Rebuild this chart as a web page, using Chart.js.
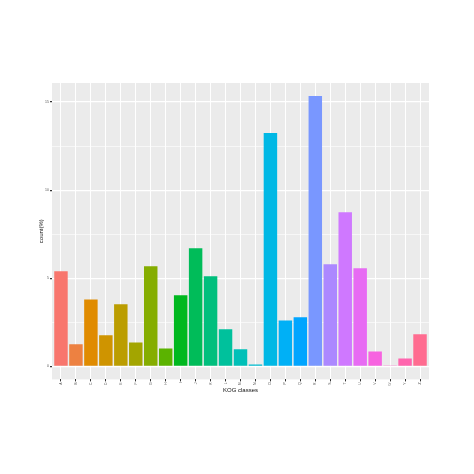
<!DOCTYPE html>
<html>
<head>
<meta charset="utf-8">
<script src="https://cdn.jsdelivr.net/npm/chart.js@4"></script>
<style>
html,body{margin:0;padding:0;background:#fff;}
#wrap{width:474px;height:474px;}
</style>
</head>
<body>
<div id="wrap"><canvas id="c" width="474" height="474"></canvas></div>
<script>
const categories = ["A","B","C","D","E","F","G","H","I","J","K","L","M","N","O","P","Q","R","S","T","U","V","W","Y","Z"];
const counts = [5.4,1.25,3.8,1.76,3.52,1.36,5.68,1.02,4.03,6.7,5.11,2.1,0.97,0.1,13.24,2.6,2.78,15.34,5.8,8.75,5.57,0.85,0.05,0.45,1.82];
const yTicks = [0,2.5,5,7.5,10,12.5,15];

function hcl(h,c,l){
  const hr=h*Math.PI/180, U=c*Math.cos(hr), V=c*Math.sin(hr);
  const Xn=95.047,Yn=100,Zn=108.883;
  const d=Xn+15*Yn+3*Zn, un=4*Xn/d, vn=9*Yn/d;
  const Y=Yn*Math.pow((l+16)/116,3);
  const up=U/(13*l)+un, vp=V/(13*l)+vn;
  const X=Y*9*up/(4*vp), Z=Y*(12-3*up-20*vp)/(4*vp);
  const x=X/100,y=Y/100,z=Z/100;
  let r=3.2404542*x-1.5371385*y-0.4985314*z;
  let g=-0.9692660*x+1.8760108*y+0.0415560*z;
  let b=0.0556434*x-0.2040259*y+1.0572252*z;
  const gm=v=>{v=v<=0.0031308?12.92*v:1.055*Math.pow(v,1/2.4)-0.055;return Math.round(Math.max(0,Math.min(1,v))*255);};
  return 'rgb('+gm(r)+','+gm(g)+','+gm(b)+')';
}
const colors = categories.map((_,i)=>hcl(15+i*360/categories.length, 100, 65));

const bgPlugin = {
  id:'panelBg',
  beforeDraw(chart){
    const {ctx, chartArea:a} = chart;
    ctx.save();
    ctx.fillStyle='#EBEBEB';
    ctx.fillRect(a.left,a.top,a.right-a.left,a.bottom-a.top);
    ctx.restore();
  }
};

new Chart(document.getElementById('c'), {
  type:'bar',
  data:{
    datasets:[{
      data: counts.map((v,i)=>({x:i,y:v})),
      backgroundColor: colors,
      borderWidth:0,
      categoryPercentage:0.9,
      barPercentage:1
    }]
  },
  plugins:[bgPlugin],
  options:{
    responsive:false,
    animation:false,
    devicePixelRatio:1,
    layout:{padding:{left:37.4,right:45,top:83,bottom:80}},
    plugins:{legend:{display:false},tooltip:{enabled:false}},
    scales:{
      x:{
        type:'linear',
        offset:false,
        min:-0.6,max:24.6,
        afterFit(s){s.height=14.6;},
        afterBuildTicks(s){s.ticks=categories.map((_,i)=>({value:i}));},
        grid:{offset:false,color:'#FFFFFF',lineWidth:1,tickLength:2,tickColor:'#333333',drawTicks:true},
        border:{display:false},
        ticks:{
          autoSkip:false,minRotation:90,maxRotation:90,padding:1,
          color:'#555555',font:{family:'Liberation Sans',size:3.5},
          callback:(v)=>categories[v]
        },
        title:{display:true,text:'KOG classes',color:'#111111',padding:0,font:{family:'Liberation Sans',size:6,lineHeight:1.2}}
      },
      y:{
        min:-0.74,max:16.08,
        afterFit(s){s.width=14.6;},
        afterBuildTicks(s){s.ticks=yTicks.map(v=>({value:v}));},
        grid:{
          color:'#FFFFFF',
          lineWidth:(c)=> (c.tick && c.tick.value%5===0)?1.2:0.6,
          tickLength:2,
          tickColor:(c)=> (c.tick && c.tick.value%5===0)?'#333333':'rgba(0,0,0,0)'
        },
        border:{display:false},
        ticks:{
          autoSkip:false,padding:1,color:'#555555',
          font:{family:'Liberation Sans',size:3.5},
          callback:(v)=> (v%5===0)? String(v) : ''
        },
        title:{display:true,text:'count(%)',color:'#111111',padding:0,font:{family:'Liberation Sans',size:6,lineHeight:1.2}}
      }
    }
  }
});
</script>
</body>
</html>
